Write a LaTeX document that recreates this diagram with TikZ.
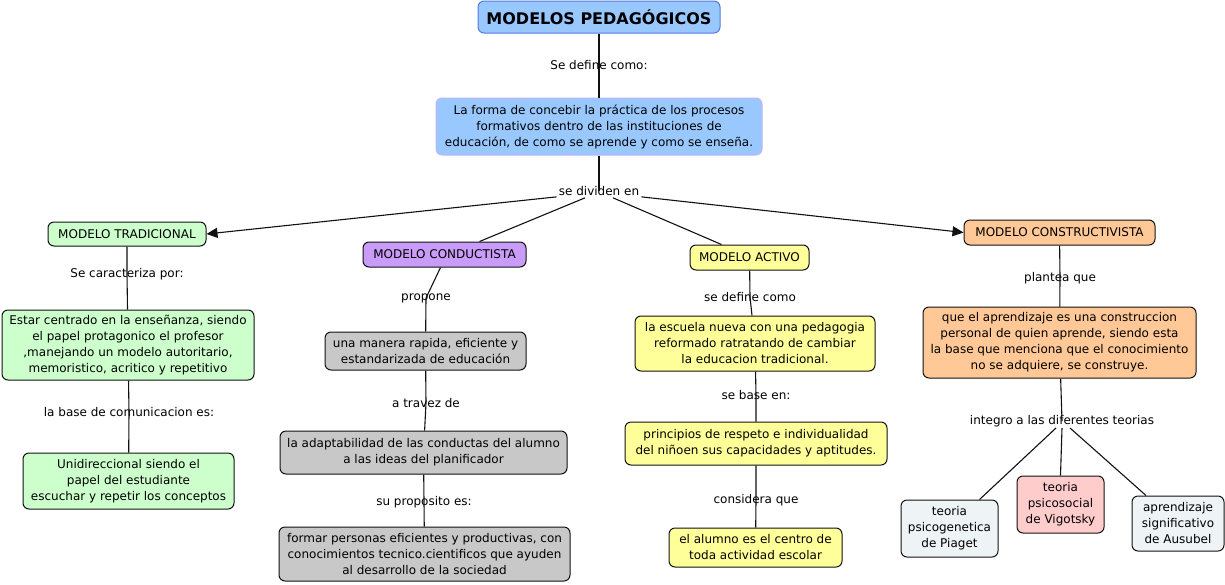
\documentclass[tikz,border=0pt]{standalone}
\usepackage{fontspec}
\setmainfont{DejaVu Sans}
\usetikzlibrary{arrows.meta}
\definecolor{cblue}{HTML}{99C8FF}
\definecolor{ctitleb}{HTML}{5577DD}
\definecolor{cdefb}{HTML}{C0B4FF}
\definecolor{cgreen}{HTML}{CCFFCC}
\definecolor{cpurple}{HTML}{C89CF8}
\definecolor{cgray}{HTML}{C8C8C8}
\definecolor{cyellow}{HTML}{FFFF99}
\definecolor{corange}{HTML}{FFC896}
\definecolor{cpink}{HTML}{FFCCCC}
\definecolor{clight}{HTML}{EEF3F5}
\definecolor{cline}{HTML}{111111}
\tikzset{
  box/.style={draw=cline, line width=1pt, rounded corners=6pt, align=center, inner sep=0pt,
    font=\fontsize{12}{16}\selectfont, text=black},
  lab/.style={inner sep=1pt, font=\fontsize{12}{14}\selectfont, text=black},
  conn/.style={draw=cline, line width=1.1pt},
  arr/.style={conn, -{Triangle[length=11pt,width=10pt]}},
}
\begin{document}
\begin{tikzpicture}[x=1pt,y=-1pt]
\useasboundingbox (0,0) rectangle (1225,584);
% top
\node[box, fill=cblue, draw=ctitleb, minimum width=242, minimum height=32, font=\fontsize{16}{19}\selectfont\bfseries] (title) at (599,17) {MODELOS PEDAGÓGICOS};
\node[lab] (l1) at (599,65) {Se define como:};
\node[box, fill=cblue, draw=cdefb, minimum width=326, minimum height=57] (def) at (599,126.5) {La forma de concebir la práctica de los procesos\\ formativos dentro de las instituciones de\\ educación, de como se aprende y como se enseña.};
\node[lab] (l2) at (599,191) {se dividen en};
% models
\node[box, fill=cgreen, minimum width=158, minimum height=24] (trad) at (127,234) {MODELO TRADICIONAL};
\node[box, fill=cpurple, minimum width=163, minimum height=25] (cond) at (444.5,254.5) {MODELO CONDUCTISTA};
\node[box, fill=cyellow, minimum width=119, minimum height=25] (act) at (749.5,257.5) {MODELO ACTIVO};
\node[box, fill=corange, minimum width=191, minimum height=25] (cons) at (1059.5,232.5) {MODELO CONSTRUCTIVISTA};
% tradicional branch
\node[lab] (l3) at (127,274) {Se caracteriza por:};
\node[box, fill=cgreen, minimum width=252, minimum height=70] (estar) at (128,345) {Estar centrado en la enseñanza, siendo\\ el papel protagonico el profesor\\ ,manejando un modelo autoritario,\\ memoristico, acritico y repetitivo};
\node[lab] (l4) at (129,412) {la base de comunicacion es:};
\node[box, fill=cgreen, minimum width=211, minimum height=56] (unid) at (128.5,481) {Unidireccional siendo el\\ papel del estudiante\\ escuchar y repetir los conceptos};
% conductista branch
\node[lab] (l5) at (426,298) {propone};
\node[box, fill=cgray, minimum width=201, minimum height=38] (una) at (425.5,351) {una manera rapida, eficiente y\\ estandarizada de educación};
\node[lab] (l6) at (426,403) {a travez de};
\node[box, fill=cgray, minimum width=287, minimum height=43] (adapt) at (423.5,452.5) {la adaptabilidad de las conductas del alumno\\ a las ideas del planificador};
\node[lab] (l7) at (424,502) {su proposito es:};
\node[box, fill=cgray, minimum width=291, minimum height=54] (formar) at (424.5,554) {formar personas eficientes y productivas, con\\ conocimientos tecnico.cientificos que ayuden\\ al desarrollo de la sociedad};
% activo branch
\node[lab] (l8) at (750,297) {se define como};
\node[box, fill=cyellow, minimum width=240, minimum height=55] (esc) at (755,343.5) {la escuela nueva con una pedagogia\\ reformado ratratando de cambiar\\ la educacion tradicional.};
\node[lab] (l9) at (756,395) {se base en:};
\node[box, fill=cyellow, minimum width=262, minimum height=43] (prin) at (756,443.5) {principios de respeto e individualidad\\ del niñoen sus capacidades y aptitudes.};
\node[lab] (l10) at (756,500) {considera que};
\node[box, fill=cyellow, minimum width=173, minimum height=39] (alum) at (755.5,547.5) {el alumno es el centro de\\ toda actividad escolar};
% constructivista branch
\node[lab] (l11) at (1060,278) {plantea que};
\node[box, fill=corange, minimum width=273, minimum height=71] (que) at (1059.5,342.5) {que el aprendizaje es una construccion\\ personal de quien aprende, siendo esta\\ la base que menciona que el conocimiento\\ no se adquiere, se construye.};
\node[lab] (l12) at (1062,421) {integro a las diferentes teorias};
\node[box, fill=clight, minimum width=97, minimum height=57] (pia) at (949.5,528.5) {teoria\\ psicogenetica\\ de Piaget};
\node[box, fill=cpink, minimum width=87, minimum height=57] (vig) at (1060.5,504.5) {teoria\\ psicosocial\\ de Vigotsky};
\node[box, fill=clight, minimum width=92, minimum height=55] (aus) at (1178,523.5) {aprendizaje\\ significativo\\ de Ausubel};
% connectors
\draw[conn] (title) -- (l1.center) -- (def);
\draw[conn] (def) -- (l2.center);
\coordinate (d1) at ([xshift=-1pt]l2.south west);
\coordinate (d4) at ([xshift=1pt]l2.south east);
\coordinate (d2) at ([xshift=-14pt,yshift=-1pt]l2.south);
\coordinate (d3) at ([xshift=14pt,yshift=-1pt]l2.south);
\draw[arr] (d1) -- (trad.east);
\draw[conn] (d2) -- ([xshift=35pt]cond.north);
\draw[conn] (d3) -- ([xshift=-28pt]act.north);
\draw[arr] (d4) -- (cons.west);
\draw[conn] (trad) -- (l3.center) -- (estar);
\draw[conn] (estar) -- (l4.center) -- (unid);
\draw[conn] ([xshift=-4pt]cond.south) -- (l5.center) -- (una);
\draw[conn] (una) -- (l6.center) -- (adapt);
\draw[conn] (adapt) -- (l7.center) -- (formar);
\draw[conn] (act) -- (l8.center) -- ([xshift=-3pt]esc.north);
\draw[conn] (esc) -- (l9.center) -- (prin);
\draw[conn] (prin) -- (l10.center) -- (alum);
\draw[conn] (cons) -- (l11.center) -- (que);
\draw[conn] (que) -- (l12.center);
\draw[conn] ([xshift=-6pt]l12.south) -- ([xshift=30pt]pia.north);
\draw[conn] (l12.south) -- (vig.north);
\draw[conn] ([xshift=8pt]l12.south) -- ([xshift=-32pt]aus.north);
\end{tikzpicture}
\end{document}
